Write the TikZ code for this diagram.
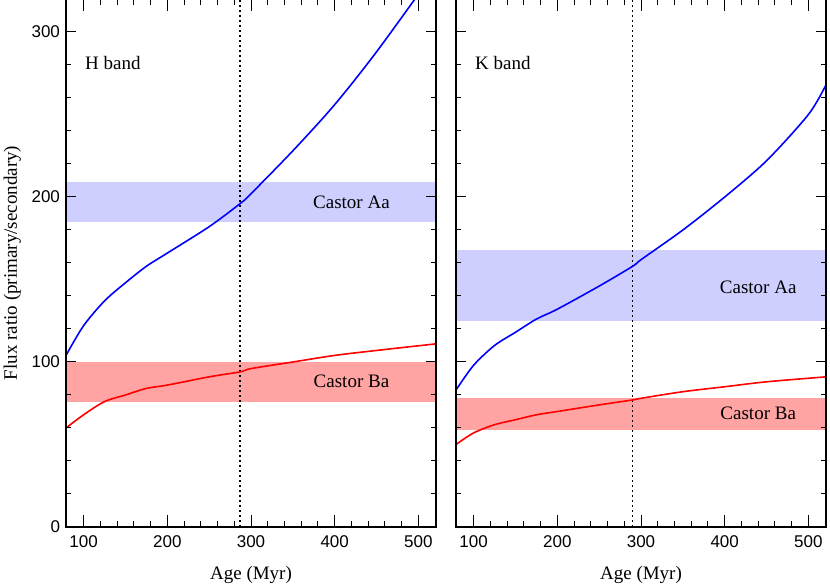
\documentclass[tikz,border=0pt]{standalone}
\usepackage{fontspec}
\setmainfont{Liberation Serif}
\newfontfamily\numf{Liberation Sans}
\begin{document}
\begin{tikzpicture}[x=1pt,y=1pt,
  bandA/.style={fill={rgb,255:red,206;green,206;blue,255}},
  bandB/.style={fill={rgb,255:red,255;green,163;blue,163}},
  bluec/.style={blue,line width=1.6pt},
  redc/.style={red,line width=1.6pt},
  dots/.style={line width=1.6pt,dash pattern=on 1.6pt off 3.4pt},
  lab/.style={font=\fontsize{19}{19}\selectfont},
  num/.style={font=\numf\fontsize{17}{17}\selectfont}]
\useasboundingbox (0,0) rectangle (830,586);
\def\panel#1{%
  \draw[line width=1.3pt] (79,0) rectangle (521,320);
  \foreach \v in {80,100,...,520}{\draw[line width=1pt] (\v,0) -- ++(0,3.5) (\v,320) -- ++(0,-3.5);}
  \foreach \v in {100,200,...,500}{\draw[line width=1pt] (\v,0) -- ++(0,7) (\v,320) -- ++(0,-7);
     \node[num,below] at (\v,-3) {\v};}
  \foreach \v in {20,40,...,300}{\draw[line width=1pt] (79,\v) -- ++(6,0) (521,\v) -- ++(-6,0);}
  \foreach \v in {0,100,...,300}{\draw[line width=1pt] (79,\v) -- ++(12,0) (521,\v) -- ++(-12,0);}
  \node[lab] at (300,-29) {Age (Myr)};
}
% left panel H
\begin{scope}[shift={(-0.13,59)},x=0.8371pt,y=1.65pt]
 \fill[bandA] (79,185) rectangle (521,209);
 \fill[bandB] (79,76) rectangle (521,100);
 \draw[dots] (287,0) -- (287,320);
 \begin{scope}
 \clip (79,0) rectangle (521,320);
 \draw[bluec] plot[smooth] coordinates {(79,104) (100,122) (125,137) (150,148) (175,158) (200,166) (250,182) (287,196) (300,202) (350,228) (400,256) (450,288) (510,330)};
 \draw[redc] plot[smooth] coordinates {(79,60) (100,68) (125,76) (150,80) (175,84) (200,86) (250,91) (287,94) (300,96) (350,100) (400,104) (450,107) (521,111)};
 \end{scope}
 \panel{}
 \foreach \v in {0,100,200,300}{\node[num,left] at (76,\v) {\v};}
 \node[lab] at (135,281) {H band};
 \node[lab] at (420,197) {Castor Aa};
 \node[lab] at (420,88) {Castor Ba};
 \node[lab,rotate=90] at (15,160) {Flux ratio (primary/secondary)};
\end{scope}
% right panel K
\begin{scope}[shift={(389.87,59)},x=0.8371pt,y=1.65pt]
 \fill[bandA] (79,125) rectangle (521,168);
 \fill[bandB] (79,59) rectangle (521,78);
 \draw[dots] (290,0) -- (290,320);
 \begin{scope}
 \clip (79,0) rectangle (521,320);
 \draw[bluec] plot[smooth] coordinates {(79,83) (100,98) (125,110) (150,118) (175,126) (200,132) (250,146) (290,158) (300,162) (350,180) (400,200) (450,222) (500,250) (521,268)};
 \draw[redc] plot[smooth] coordinates {(79,50) (100,57) (125,62) (150,65) (175,68) (200,70) (250,74) (290,77) (300,78) (350,82) (400,85) (450,88) (521,91)};
 \end{scope}
 \panel{}
 \node[lab] at (135,281) {K band};
 \node[lab] at (440,145) {Castor Aa};
 \node[lab] at (440,69) {Castor Ba};
\end{scope}
\end{tikzpicture}
\end{document}
